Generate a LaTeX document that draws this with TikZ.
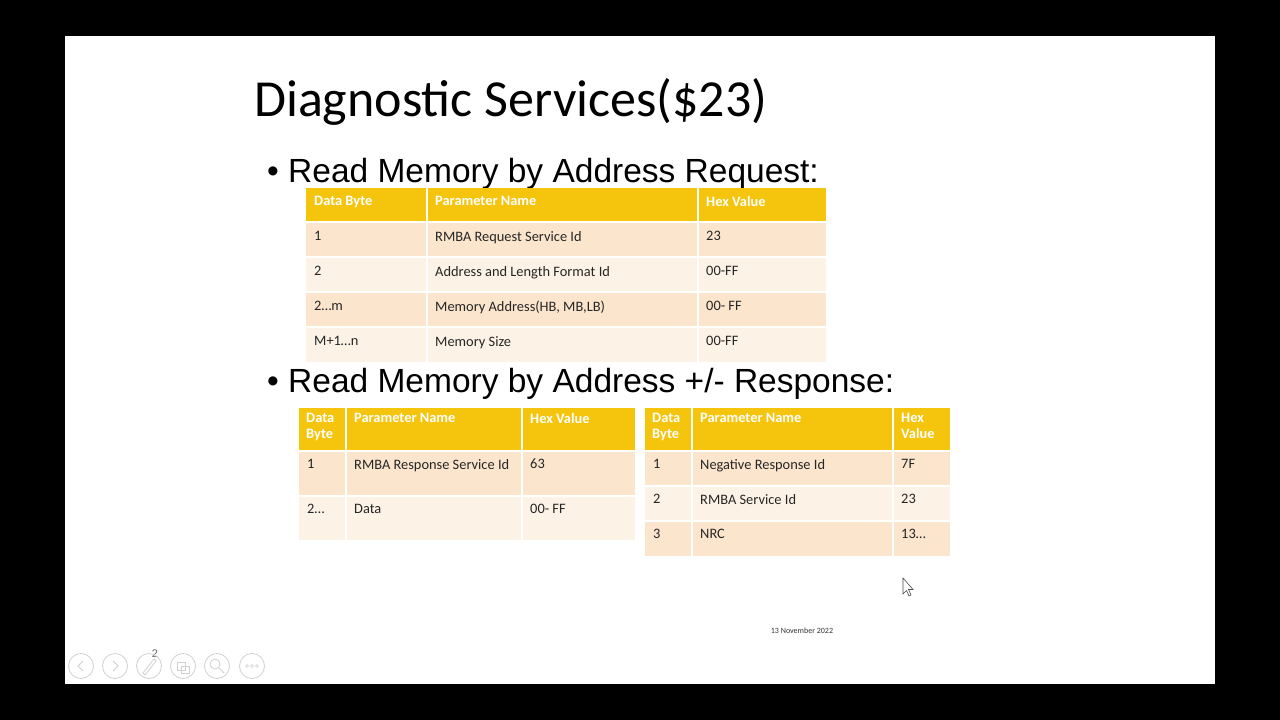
\documentclass[tikz,border=0pt]{standalone}
\usepackage{fontspec}
\setmainfont{Carlito}
\newfontfamily\arialf{Liberation Sans}
\newfontfamily\lightf{Carlito}
\definecolor{hdr}{HTML}{F5C40C}
\definecolor{rowa}{HTML}{FBE5CD}
\definecolor{rowb}{HTML}{FDF2E6}
\definecolor{ctl}{HTML}{D0D0D0}
\tikzset{
 cell/.style={anchor=north west,inner sep=0pt,font=\fontsize{14.4}{16}\selectfont,text=black!85,align=left},
 hcell/.style={cell,text=white,font=\bfseries\fontsize{14.4}{16}\selectfont},
 ctlc/.style={draw=ctl,line width=0.8pt,circle,minimum size=25pt,inner sep=0pt}
}
\newcommand{\cellt}[4]{\node[#1] at (#2+8,#3+9) {#4};}
\begin{document}
\begin{tikzpicture}[x=1pt,y=-1pt]
\fill[black] (0,0) rectangle (1280,720);
\fill[white] (65,36) rectangle (1215,684);
\useasboundingbox (0,0) rectangle (1280,720);
\node[anchor=base west,inner sep=0pt,font=\lightf\fontsize{52}{58}\selectfont] (title) at (254,116) {Diagnostic Services(\$23)};
\node[anchor=base west,inner sep=0pt,font=\arialf\fontsize{33.5}{38}\selectfont] (b1) at (267,182) {\textbullet\ Read Memory by Address Request:};
\node[anchor=base west,inner sep=0pt,font=\arialf\fontsize{33.5}{38}\selectfont] (b2) at (267,392) {\textbullet\ Read Memory by Address +/- Response:};
% table 1
\fill[hdr] (306,188) rectangle (826,222);
\fill[rowa] (306,222) rectangle (826,257);
\fill[rowb] (306,257) rectangle (826,292);
\fill[rowa] (306,292) rectangle (826,327);
\fill[rowb] (306,327) rectangle (826,362);
\foreach \x in {427,698}{\draw[white,line width=1.2pt] (\x,188) -- (\x,362);}
\foreach \y in {222,257,292,327}{\draw[white,line width=1.2pt] (306,\y) -- (826,\y);}
\cellt{hcell}{306}{187}{Data Byte}
\cellt{hcell}{427}{187}{Parameter Name}
\cellt{hcell}{698}{187}{Hex Value}
\cellt{cell}{306}{222}{1}\cellt{cell}{427}{222}{RMBA Request Service Id}\cellt{cell}{698}{222}{23}
\cellt{cell}{306}{257}{2}\cellt{cell}{427}{257}{Address and Length Format Id}\cellt{cell}{698}{257}{00-FF}
\cellt{cell}{306}{292}{2\dots m}\cellt{cell}{427}{292}{Memory Address(HB, MB,LB)}\cellt{cell}{698}{292}{00- FF}
\cellt{cell}{306}{327}{M+1\dots n}\cellt{cell}{427}{327}{Memory Size}\cellt{cell}{698}{327}{00-FF}
% table 2
\fill[hdr] (299,408) rectangle (635,451);
\fill[rowa] (299,451) rectangle (635,496);
\fill[rowb] (299,496) rectangle (635,540);
\foreach \x in {346,522}{\draw[white,line width=1.2pt] (\x,408) -- (\x,540);}
\foreach \y in {451,496}{\draw[white,line width=1.2pt] (299,\y) -- (635,\y);}
\node[hcell] at (306,413) {Data\\[0pt]Byte};
\cellt{hcell}{346}{404}{Parameter Name}
\cellt{hcell}{522}{404}{Hex Value}
\cellt{cell}{299}{450}{1}\cellt{cell}{346}{450}{RMBA Response Service Id}\cellt{cell}{522}{450}{63}
\cellt{cell}{299}{495}{2\dots}\cellt{cell}{346}{495}{Data}\cellt{cell}{522}{495}{00- FF}
% table 3
\fill[hdr] (645,408) rectangle (950,451);
\fill[rowa] (645,451) rectangle (950,486);
\fill[rowb] (645,486) rectangle (950,521);
\fill[rowa] (645,521) rectangle (950,556);
\foreach \x in {692,893}{\draw[white,line width=1.2pt] (\x,408) -- (\x,556);}
\foreach \y in {451,486,521}{\draw[white,line width=1.2pt] (645,\y) -- (950,\y);}
\node[hcell] at (652,413) {Data\\[0pt]Byte};
\cellt{hcell}{692}{404}{Parameter Name}
\node[hcell] at (901,413) {Hex\\[0pt]Value};
\cellt{cell}{645}{450}{1}\cellt{cell}{692}{450}{Negative Response Id}\cellt{cell}{893}{450}{7F}
\cellt{cell}{645}{485}{2}\cellt{cell}{692}{485}{RMBA Service Id}\cellt{cell}{893}{485}{23}
\cellt{cell}{645}{520}{3}\cellt{cell}{692}{520}{NRC}\cellt{cell}{893}{520}{13\dots}
% footer
\node[font=\fontsize{8}{9}\selectfont,inner sep=0pt,text=black!80] (date) at (802,631) {13 November 2022};
\node[font=\arialf\fontsize{11}{12}\selectfont,inner sep=0pt,text=black!60] (pg) at (155,654) {2};
\foreach \x/\n in {81/c1,115/c2,149/c3,183/c4,217/c5,252/c6}{\node[ctlc] (\n) at (\x,666) {};}
\draw[ctl,line width=0.8pt] (83,661) -- (78,666) -- (83,671);
\draw[ctl,line width=0.8pt] (113,661) -- (118,666) -- (113,671);
\draw[ctl,line width=0.8pt] (143,673) -- (154,659) -- (156,661) -- (145,675) -- cycle;
\draw[ctl,line width=0.8pt] (177,662) rectangle (185,670) (181,666) rectangle (189,673);
\draw[ctl,line width=0.8pt] (215,664) circle (5) (219,668) -- (224,673);
\foreach \x in {247,252,257}{\draw[ctl,line width=0.6pt] (\x,666) circle (1.5);}
% cursor
\draw[black!70,fill=white,line width=0.6pt] (903,578) -- (903,594) -- (906.5,590.5) -- (909,596) -- (911,595) -- (908.5,589.5) -- (913,589.5) -- cycle;
\end{tikzpicture}
\end{document}
